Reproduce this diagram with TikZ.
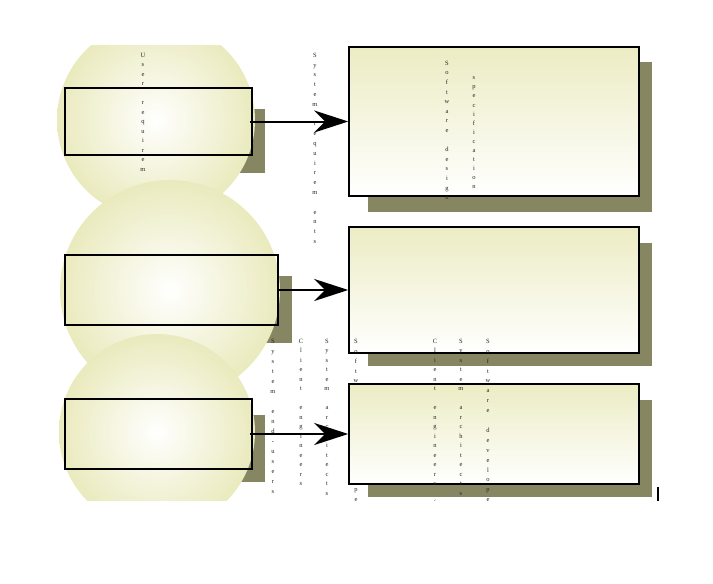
\documentclass[tikz,border=0pt]{standalone}
\usepackage{fontspec}
\setmainfont{Liberation Serif}
\usetikzlibrary{arrows.meta}
\definecolor{circout}{RGB}{234,234,190}
\definecolor{boxtop}{RGB}{236,236,196}
\definecolor{shadowc}{RGB}{134,134,99}
\begin{document}
\begin{tikzpicture}[x=1pt,y=-1pt,
  lrect/.style={draw, line width=1.5pt, inner sep=0pt},
  rbox/.style={draw, line width=1.5pt, inner sep=0pt, top color=boxtop, bottom color=white},
  shad/.style={fill=shadowc},
  ball/.style={inner color=white, outer color=circout},
  arr/.style={line width=2pt, -{Stealth[length=34pt,width=22pt,inset=11pt]}},
  vcol/.style={anchor=north, inner sep=0pt, align=center, text=black!85}
]
\useasboundingbox (0,0) rectangle (713,584);
\begin{scope}
\clip (0,45) rectangle (660,500);
% shadows of the left rectangles
\fill[shad] (80,109) rectangle (265,173);
\fill[shad] (85,276) rectangle (292,343);
\fill[shad] (80,415) rectangle (265,482);
% shaded balls
\shade[ball] (156,120) circle (99);
\shade[ball] (170,290) circle (110);
\shade[ball] (157,432) circle (98);
% left rectangles
\node[lrect, minimum width=187pt, minimum height=67pt] (r1) at (158.5,121.5) {};
\node[lrect, minimum width=213pt, minimum height=70pt] (r2) at (171.5,290) {};
\node[lrect, minimum width=187pt, minimum height=70pt] (r3) at (158.5,434) {};
% shadows of the right boxes
\fill[shad] (368,62) rectangle (652,212);
\fill[shad] (368,243) rectangle (652,366);
\fill[shad] (368,400) rectangle (652,497);
% right boxes
\node[rbox, minimum width=290pt, minimum height=149pt] (b1) at (494,121.5) {};
\node[rbox, minimum width=290pt, minimum height=126pt] (b2) at (494,290) {};
\node[vcol, font=\fontsize{6.5}{9.9}\selectfont] (swdevA) at (356,338.8) {S\\o\\f\\t\\w\\a\\r\\e\\~\\d\\e\\v\\e\\l\\o\\p\\e\\r\\s};
\node[rbox, minimum width=290pt, minimum height=100pt] (b3) at (494,434) {};
% vertical texts
\node[vcol, font=\fontsize{6.5}{9.5}\selectfont] (userreq) at (143,52.8) {U\\s\\e\\r\\~\\r\\e\\q\\u\\i\\r\\e\\m};
\node[vcol, font=\fontsize{6.5}{9.8}\selectfont] (sysreq) at (315,52.8) {S\\y\\s\\t\\e\\m\\~\\r\\e\\q\\u\\i\\r\\e\\m\\~\\e\\n\\t\\s};
\node[vcol, font=\fontsize{6.5}{9.6}\selectfont] (swdes) at (447,60.8) {S\\o\\f\\t\\w\\a\\r\\e\\~\\d\\e\\s\\i\\g\\n};
\node[vcol, font=\fontsize{6.5}{9.1}\selectfont] (spec) at (474,76.5) {s\\p\\e\\c\\i\\f\\i\\c\\a\\t\\i\\o\\n};
\node[vcol, font=\fontsize{6.5}{10}\selectfont] (endusers) at (273,338.8) {S\\y\\s\\t\\e\\m\\~\\e\\n\\d\\-\\u\\s\\e\\r\\s};
\node[vcol, font=\fontsize{6.5}{9.5}\selectfont] (clientA) at (301,338.8) {C\\l\\i\\e\\n\\t\\~\\e\\n\\g\\i\\n\\e\\e\\r\\s};
\node[vcol, font=\fontsize{6.5}{9.5}\selectfont] (archA) at (327,338.8) {S\\y\\s\\t\\e\\m\\~\\a\\r\\c\\h\\i\\t\\e\\c\\t\\s};
\node[vcol, font=\fontsize{6.5}{9.5}\selectfont] (clientB) at (435,338.8) {C\\l\\i\\e\\n\\t\\~\\e\\n\\g\\i\\n\\e\\e\\r\\s\\~\\(\\p\\e\\r\\h\\a\\p\\s\\)};
\node[vcol, font=\fontsize{6.5}{9.5}\selectfont] (archB) at (461,338.8) {S\\y\\s\\t\\e\\m\\~\\a\\r\\c\\h\\i\\t\\e\\c\\t\\s};
\node[vcol, font=\fontsize{6.5}{9.9}\selectfont] (swdevB) at (488,338.8) {S\\o\\f\\t\\w\\a\\r\\e\\~\\d\\e\\v\\e\\l\\o\\p\\e\\r\\s};
% connectors
\draw[arr] ([xshift=-3pt]r1.east) -- (b1.west);
\draw[arr] ([xshift=-2pt]r2.east) -- (b2.west);
\draw[arr] ([xshift=-3pt]r3.east) -- (b3.west);
% small bar
\coordinate (barA) at (658,487);
\coordinate (barB) at (658,502);
\draw[line width=2pt] (barA) -- (barB);
\end{scope}
\end{tikzpicture}
\end{document}
